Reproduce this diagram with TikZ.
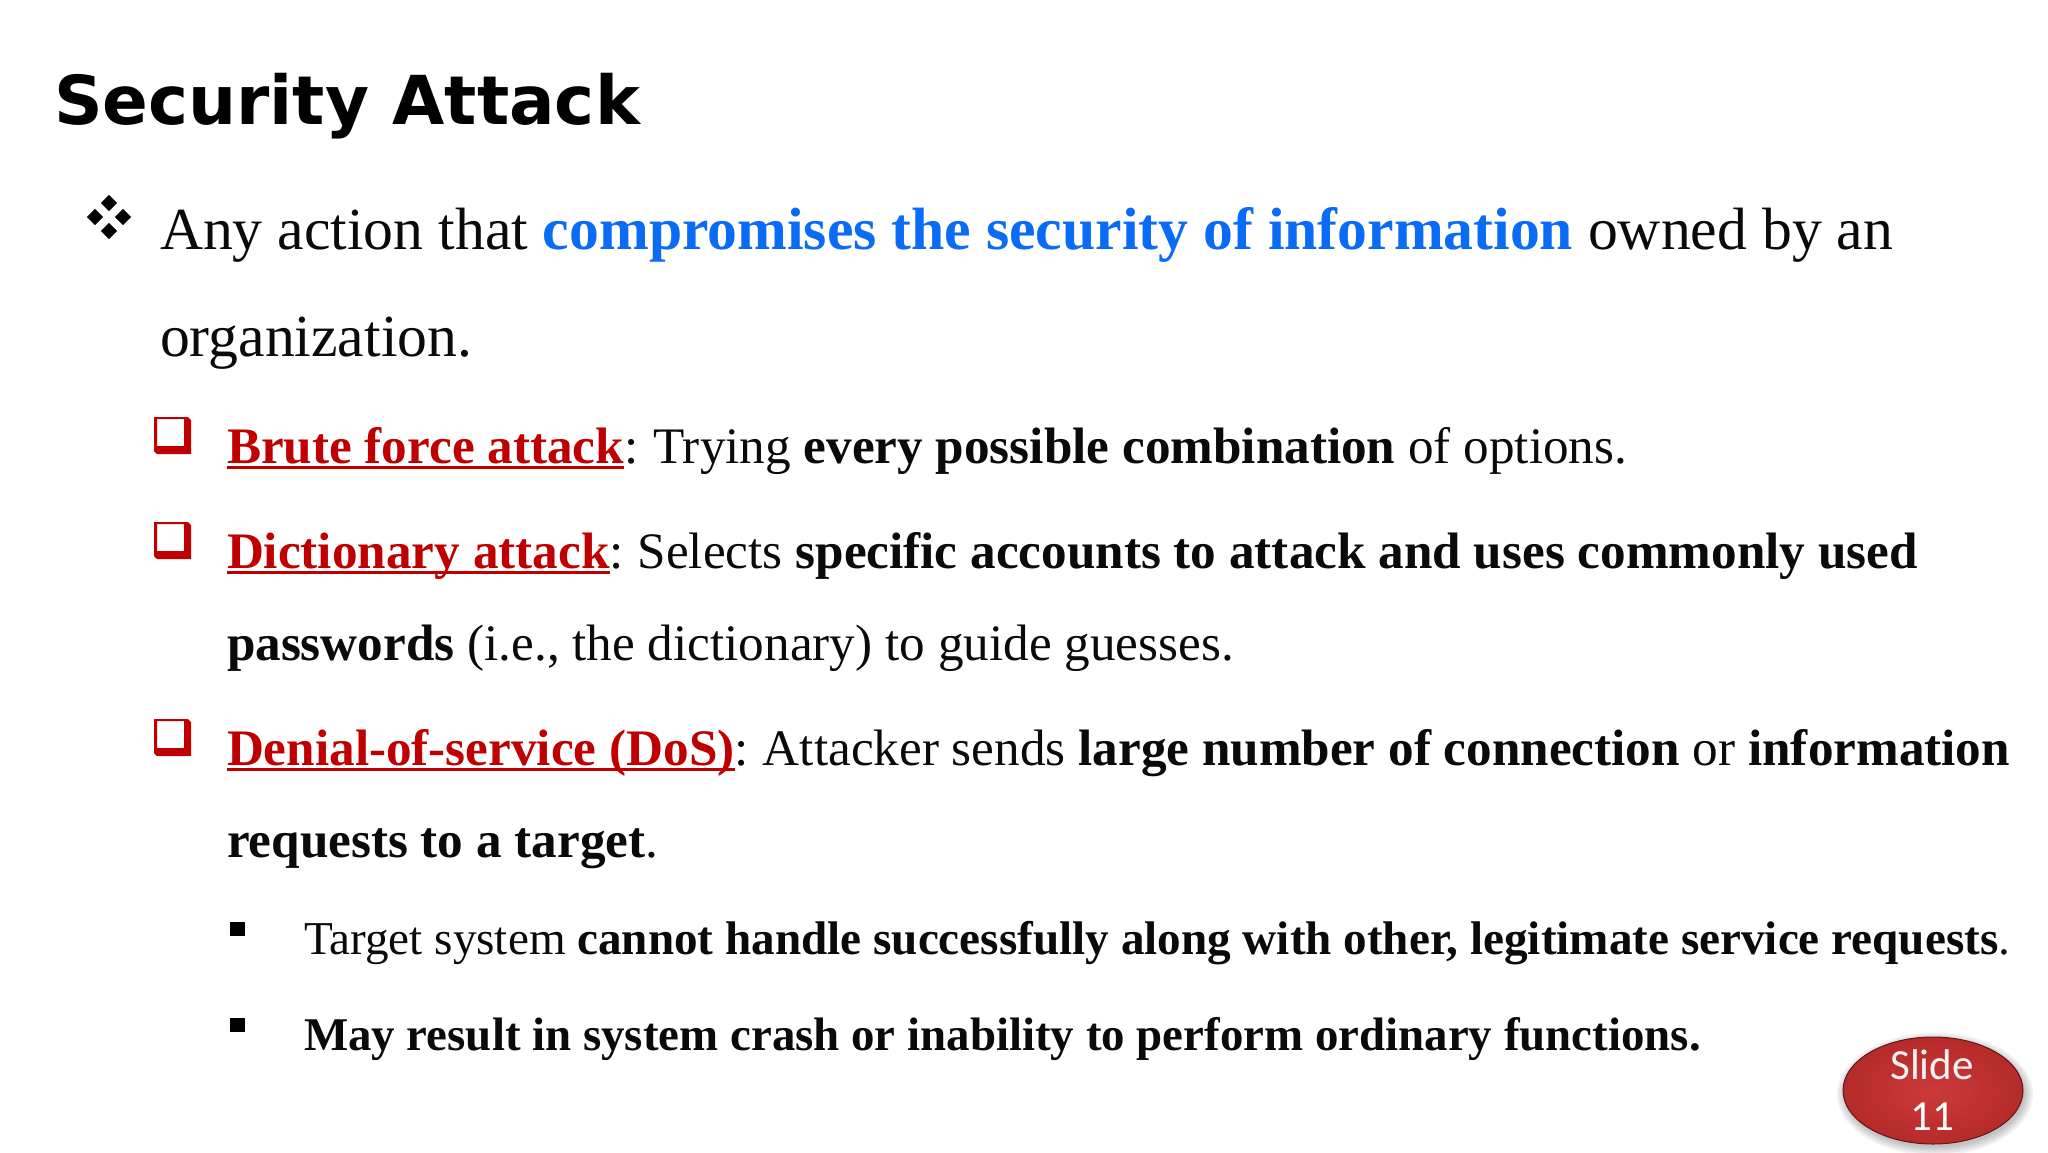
\documentclass[tikz,border=0pt]{standalone}
\usepackage{fontspec}
\setmainfont{Liberation Serif}
\newfontfamily\titlefont{DejaVu Sans}
\newfontfamily\badgefont{Carlito}
\usetikzlibrary{shapes.geometric}
\definecolor{hlblue}{HTML}{0A6CF5}
\definecolor{hlred}{HTML}{C00000}
\definecolor{txt}{HTML}{0A0A0A}
\definecolor{badgein}{HTML}{CC3A3A}
\definecolor{badgeout}{HTML}{B52A2A}
\newcommand\redul[1]{\setbox0=\hbox{#1}\rlap{\raisebox{-0.115em}{\rule{\wd0}{0.055em}}}\box0}
\newcommand\fs[1]{\fontsize{#1}{#1}\selectfont}
\newcommand\hb[1]{{\bfseries\color{hlblue}#1}}
\newcommand\hr[1]{{\bfseries\color{hlred}\redul{#1}}}
\tikzset{
  textline/.style={anchor=base west,inner sep=0pt,outer sep=0pt,text=txt},
  lvla/.style={textline,font=\fs{59.7}},
  lvlb/.style={textline,font=\fs{51.2}},
  lvlc/.style={textline,font=\fs{47}},
  boxbullet/.pic={
    \fill[hlred,even odd rule] (0,0) -- (34,0) -- (37,3) -- (37,37) -- (3,37) -- (0,34) -- cycle
      (3,2) -- (3,29) -- (30,29) -- (30,2) -- cycle;
  },
  dmd/.pic={\fill[black] (-8.2,0) -- (0,-8.2) -- (8.2,0) -- (0,8.2) -- cycle;},
  softshadow/.style={fill=black,opacity=.05},
}
\begin{document}
\begin{tikzpicture}[x=1pt,y=-1pt]
\useasboundingbox (0,0) rectangle (2048,1152);
\fill[white] (0,0) rectangle (2048,1152);
\node[textline,font=\titlefont\bfseries\fs{67.5},text=black] (title) at (54,124) {Security Attack};
\pic at (109,203) {dmd}; \pic at (95,217) {dmd}; \pic at (123,217) {dmd}; \pic at (109,231) {dmd};
\node[lvla] (l1) at (160,249) {Any action that \hb{compromises the security of information} owned by an};
\node[lvla] (l2) at (160,356) {organization.};
\pic at (154,417) {boxbullet};
\node[lvlb] (b1) at (227,463) {\hr{Brute force attack}:\hspace{-2pt} Trying \textbf{every possible combination} of options.};
\pic at (154,522) {boxbullet};
\node[lvlb] (b2) at (227,568) {\hr{Dictionary attack}:\hspace{-3pt} Selects \textbf{specific accounts to attack and uses commonly used}};
\node[lvlb] (b2b) at (227,660) {\textbf{passwords} (i.e., the dictionary) to guide guesses.};
\pic at (154,719) {boxbullet};
\node[lvlb] (b3) at (227,765) {\hr{Denial-of-service (DoS)}:\hspace{-3pt} Attacker sends \textbf{large number of connection} or \textbf{information}};
\node[lvlb] (b3b) at (227,857) {\textbf{requests to a target}.};
\fill[black] (230,922) rectangle (245,936);
\node[lvlc,font=\fs{47.15}] (c1) at (304,954) {Target system \textbf{cannot handle successfully along with other, legitimate service requests}.};
\fill[black] (230,1018) rectangle (245,1032);
\node[lvlc,font=\fs{46.9}] (c2) at (304,1050) {\textbf{May result in system crash or inability to perform ordinary functions.}};
\foreach \g in {8,6,4,2,0}
  \fill[softshadow] (1935,1094) ellipse [x radius=90+\g,y radius=53.5+\g];
\node[ellipse,minimum width=180,minimum height=107,inner sep=0pt,draw=badgeout!55!black,line width=1pt,
  inner color=badgein,outer color=badgeout] (badge) at (1933,1090.5) {};
\node[font=\badgefont\fs{43},text=white!95!black,anchor=base] (s1) at (1932,1079) {Slide};
\node[font=\badgefont\fs{43},text=white,anchor=base] (s2) at (1932,1130) {11};
\end{tikzpicture}
\end{document}
